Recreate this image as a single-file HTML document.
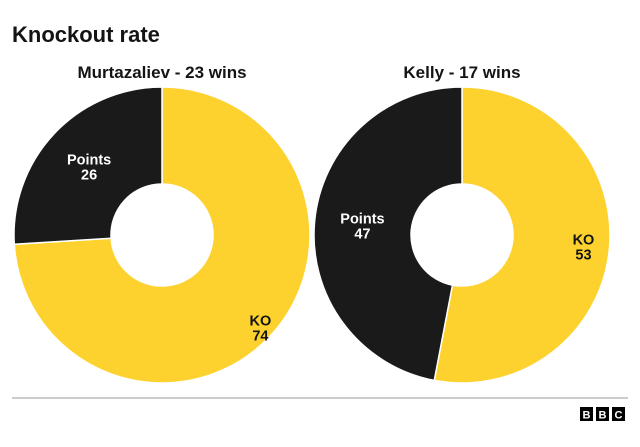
<!DOCTYPE html>
<html><head><meta charset="utf-8"><style>
body{margin:0;background:#fff;font-family:"Liberation Sans",sans-serif}
svg text{font-family:"Liberation Sans",sans-serif;font-weight:bold}
</style></head><body>
<svg width="640" height="442" viewBox="0 0 640 442" xmlns="http://www.w3.org/2000/svg">
<text x="12" y="42" font-size="22" fill="#141414">Knockout rate</text>
<g id="charts"></g>
<line x1="12" y1="398" x2="628" y2="398" stroke="#999" stroke-width="1"/>
<g>
<rect x="580" y="407" width="13" height="14" fill="#000"/><text x="586.5" y="418.5" font-size="11" fill="#fff" text-anchor="middle">B</text>
<rect x="596" y="407" width="13" height="14" fill="#000"/><text x="602.5" y="418.5" font-size="11" fill="#fff" text-anchor="middle">B</text>
<rect x="612" y="407" width="13" height="14" fill="#000"/><text x="618.5" y="418.5" font-size="11" fill="#fff" text-anchor="middle">C</text>
</g>
</svg>
<script>
const fighters = ["Murtazaliev - 23 wins", "Kelly - 17 wins"];
const koValues = [74, 53];
const pointsValues = [26, 47];
const categories = ["KO", "Points"];

const NS = "http://www.w3.org/2000/svg";
const g = document.getElementById("charts");
const centersX = [162, 462], cy = 235, R = 148, r = 51;
const colors = ["#fdd22e", "#1a1a1a"], textColors = ["#141414", "#fff"];
function pt(frac, rad, cx){const a = frac*2*Math.PI; return [cx+rad*Math.sin(a), cy-rad*Math.cos(a)];}
function mk(tag, attrs){const e=document.createElementNS(NS,tag);for(const k in attrs)e.setAttribute(k,attrs[k]);return e;}
fighters.forEach((name,i)=>{
  const cx = centersX[i];
  const t = mk("text",{x:cx,y:78,"font-size":17,fill:"#141414","text-anchor":"middle"});
  t.textContent = name;
  
  
  g.appendChild(t);
  const vals = [koValues[i], pointsValues[i]];
  const total = vals[0]+vals[1];
  let start = 0;
  vals.forEach((v,j)=>{
    const f0 = start/total, f1 = (start+v)/total;
    const [x0,y0]=pt(f0,R,cx),[x1,y1]=pt(f1,R,cx),[x2,y2]=pt(f1,r,cx),[x3,y3]=pt(f0,r,cx);
    const large = (f1-f0)>0.5?1:0;
    const p = mk("path",{d:`M${x0},${y0}A${R},${R} 0 ${large} 1 ${x1},${y1}L${x2},${y2}A${r},${r} 0 ${large} 0 ${x3},${y3}Z`,fill:colors[j],stroke:"#fff","stroke-width":1.5});
    
    
    g.appendChild(p);
    const [lx,ly] = pt((f0+f1)/2, j===0?(f1-f0>0.6?135:122):100, cx);
    const lab = mk("text",{x:lx,y:ly-2,"font-size":14.5,fill:textColors[j],"text-anchor":"middle"});
    
    
    const s1 = mk("tspan",{x:lx,dy:0}); s1.textContent = categories[j];
    const s2 = mk("tspan",{x:lx,dy:15}); s2.textContent = v;
    lab.appendChild(s1); lab.appendChild(s2);
    g.appendChild(lab);
    start += v;
  });
});
</script>
</body></html>
